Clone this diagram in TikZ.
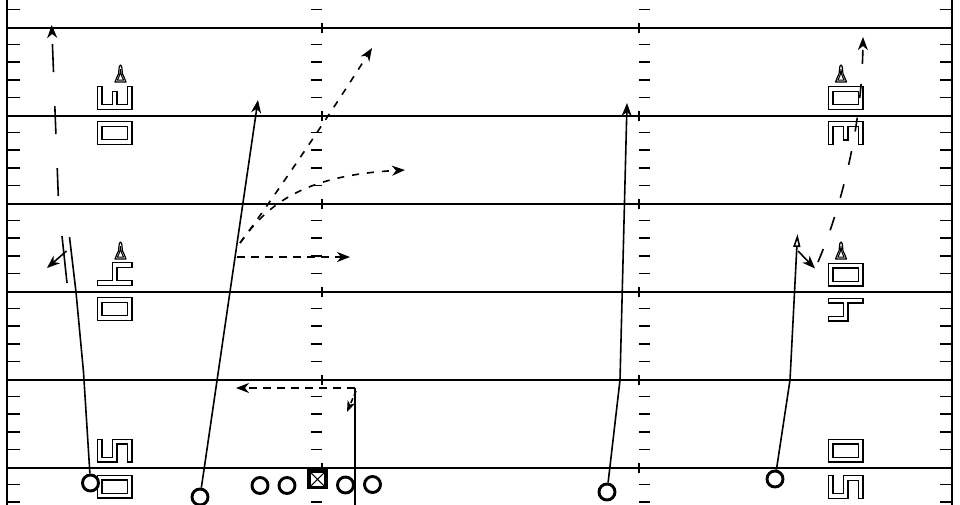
\documentclass[tikz,border=0pt]{standalone}
\usetikzlibrary{arrows.meta}
\newcommand\ydnum[1]{\draw[numblack] #1; \draw[numwhite] #1;}
\tikzset{
  field/.style={line width=1.9pt},
  tickmark/.style={line width=1.7pt},
  route/.style={line width=1.6pt},
  dsh/.style={route,dash pattern=on 8pt off 6pt},
  arr/.style={-{Stealth[length=13pt,width=10pt,inset=4pt]}},
  player/.style={circle,draw,line width=2.9pt,fill=white,minimum size=16pt,inner sep=0pt},
  ctr/.style={rectangle,draw,line width=3.7pt,fill=white,minimum size=16.6pt,inner sep=0pt,
    path picture={\draw[line width=1pt] (path picture bounding box.north west) -- (path picture bounding box.south east)
      (path picture bounding box.north east) -- (path picture bounding box.south west);}},
  numblack/.style={line width=6pt,line cap=rect,line join=miter},
  numwhite/.style={white,line width=3.1pt,line cap=rect,line join=miter},
  pics/dzero/.style={code={\ydnum{(-15,-9) rectangle (15,9)}}},
  pics/dthree/.style={code={\ydnum{(-15,-9) -- (-15,9) -- (15,9) -- (15,-9) (0,-4.5) -- (0,9)}}},
  pics/dfour/.style={code={\ydnum{(-15,9) -- (15,9) (0,9) -- (0,-9) -- (15,-9)}}},
  pics/dfive/.style={code={\ydnum{(-15,-9) -- (-15,9) -- (0,9) -- (0,-9) -- (15,-9) -- (15,9)}}},
  pics/flag/.style={code={
    \draw[line width=1.2pt,line join=round] (-5.5,0) -- (5.5,0) -- (3.5,-5) -- (2,-8) -- (1.2,-15.5) -- (0,-17) -- (-1.2,-15.5) -- (-2,-8) -- (-3.5,-5) -- cycle;
    \draw[line width=1pt,line join=round] (-3.2,-1.8) -- (3.2,-1.8) -- (1.6,-5) -- (0.6,-8) -- (0,-12.5) -- (-0.6,-8) -- (-1.6,-5) -- cycle;}},
}
\begin{document}
\begin{tikzpicture}[x=1pt,y=-1pt]
\useasboundingbox (0,0) rectangle (960,504);
\clip (0,0) rectangle (960,504);
\fill[white] (0,0) rectangle (960,504);
% sidelines
\draw[field] (7,-2) -- (7,506);
\draw[field] (952,-2) -- (952,506);
% yard lines with hash ticks
\foreach \y in {28,116,204,292,380,468}{
  \draw[field] (7,\y) -- (952,\y);
  \draw[tickmark] (322,\y-5) -- (322,\y+5);
  \draw[tickmark] (639,\y-5) -- (639,\y+5);
}
% one-yard ticks
\foreach \k in {-1,0,...,27}{
  \pgfmathtruncatemacro\r{mod(\k+5,5)}
  \ifnum\r=0\relax\else
    \pgfmathsetmacro\yy{27+17.6*\k}
    \draw[tickmark] (7,\yy) -- (20,\yy);
    \draw[tickmark] (940,\yy) -- (952,\yy);
    \draw[tickmark] (311,\yy) -- (322,\yy);
    \draw[tickmark] (639,\yy) -- (650,\yy);
  \fi
}
% numbers, left side
\pic at (114.5,98) {dthree};
\pic at (114.5,133) {dzero};
\pic at (114.5,274) {dfour};
\pic at (114.5,309) {dzero};
\pic at (114.5,450.5) {dfive};
\pic at (114.5,486.5) {dzero};
\pic at (120.5,82) {flag};
\pic at (120.5,259) {flag};
% numbers, right side
\pic at (845.5,98) {dzero};
\pic[rotate=180] at (845.5,133) {dthree};
\pic at (845.5,274.5) {dzero};
\pic[rotate=180] at (845.5,309.5) {dfour};
\pic at (845.5,450.5) {dzero};
\pic[rotate=180] at (845.5,487) {dfive};
\pic at (841,82) {flag};
\pic at (841,259) {flag};
% players
\node[player] (lwr) at (90.5,483) {};
\node[player] (rb) at (200,497) {};
\node[player] (lt) at (260,485.5) {};
\node[player] (lg) at (287,485.5) {};
\node[ctr] (c) at (317.5,479.3) {};
\node[player] (rg) at (345.5,485) {};
\node[player] (rt) at (372.5,484.5) {};
\node[player] (wr3) at (607,492) {};
\node[player] (wr4) at (775,479) {};
% route coordinates
\coordinate (a1) at (83.5,372);
\coordinate (a2) at (76,292);
\coordinate (a3) at (69.5,237);
\coordinate (a4) at (62,236);
\coordinate (a5) at (67,283);
\coordinate (a6) at (66.5,251);
\coordinate (a7) at (47,268);
\coordinate (b0) at (58.3,196);
\coordinate (b1) at (51.7,25);
\coordinate (c1) at (258,100);
\coordinate (d0) at (236.5,257);
\coordinate (d1) at (350,257);
\coordinate (e0) at (240,243);
\coordinate (e1) at (372,48);
\coordinate (e2) at (405,170);
\coordinate (f0) at (355,506);
\coordinate (f1) at (355,388);
\coordinate (f2) at (236,388);
\coordinate (f3) at (356,391);
\coordinate (f4) at (347,412);
\coordinate (g1) at (620,380);
\coordinate (g2) at (627,103);
\coordinate (h1) at (790,380);
\coordinate (h2) at (797.5,234);
\coordinate (h3) at (798,251);
\coordinate (h4) at (815,268.5);
\coordinate (h5) at (818,262);
\coordinate (h6) at (863,37);
% routes
\draw[route] (lwr) -- (a1) -- (a2) -- (a3);
\draw[route] (a4) -- (a5);
\draw[route,arr] (a6) -- (a7);
\draw[route,dash pattern=on 28pt off 34pt,arr] (b0) -- (b1);
\draw[route,arr] (rb) -- (c1);
\draw[dsh,arr] (d0) -- (d1);
\draw[route,dash pattern=on 7pt off 8pt,arr] (e0) .. controls (262,214) and (320,130) .. (e1);
\draw[route,dash pattern=on 7pt off 8pt,arr] (e0) .. controls (270,200) and (310,175) .. (e2);
\draw[route] (f0) -- (f1);
\draw[dsh,arr] (f1) -- (f2);
\draw[route,dash pattern=on 5pt off 3pt,-{Stealth[length=11pt,width=8pt,inset=3pt]}] (f3) -- (f4);
\draw[route,arr] (wr3) -- (g1) -- (g2);
\draw[route,-{Triangle[open,length=13pt,width=7pt]}] (wr4) -- (h1) -- (h2);
\draw[route,arr] (h3) -- (h4);
\draw[route,dash pattern=on 14pt off 20pt,arr] (h5) .. controls (840,210) and (862,130) .. (h6);
\end{tikzpicture}
\end{document}
